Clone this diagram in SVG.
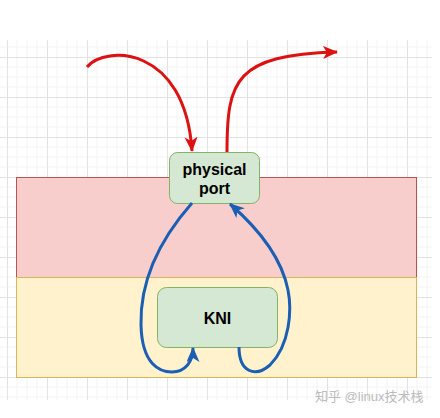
<svg xmlns="http://www.w3.org/2000/svg" width="440" height="418" viewBox="0 0 440 418">
  <defs>
    <pattern id="grid" patternUnits="userSpaceOnUse" x="7" y="17" width="40" height="40">
      <path d="M10,0 V40 M20,0 V40 M30,0 V40 M0,10 H40 M0,20 H40 M0,30 H40" stroke="#f3f3f3" stroke-width="1" fill="none"/>
      <path d="M0.5,0 V40 M0,0.5 H40" stroke="#e2e2e2" stroke-width="1" fill="none"/>
    </pattern>
    <marker id="arrRed" markerUnits="userSpaceOnUse" markerWidth="16" markerHeight="14" refX="14" refY="6.5" orient="auto">
      <path d="M0,0 L15,6.5 L0,13 L4,6.5 z" fill="#dd1111"/>
    </marker>
    <marker id="arrBlue" markerUnits="userSpaceOnUse" markerWidth="16" markerHeight="14" refX="14" refY="6.5" orient="auto">
      <path d="M0,0 L15,6.5 L0,13 L4,6.5 z" fill="#1a5fb4"/>
    </marker>
  </defs>
  <style>
    .layer { stroke-width: 1; }
    .node rect { fill: #d5e8d4; stroke: #82b366; stroke-width: 1; }
    .label { font-family: "Liberation Sans", Arial, sans-serif; font-weight: bold; font-size: 16px; fill: #000; text-anchor: middle; }
    .red { fill: none; stroke: #dd1111; stroke-width: 3; marker-end: url(#arrRed); }
    .blue { fill: none; stroke: #1a5fb4; stroke-width: 3; marker-end: url(#arrBlue); }
    .wm { font-family: "Liberation Sans", "Noto Sans CJK SC", sans-serif; font-size: 13px; fill: #bbbbbb; }
  </style>
  <rect x="0" y="0" width="440" height="418" fill="#ffffff"/>
  <rect x="0" y="40" width="432" height="360" fill="url(#grid)"/>

  <g id="layer-top">
    <rect class="layer" x="16.5" y="177.5" width="400" height="100" fill="#f8cecc" stroke="#b85450"/>
  </g>
  <g id="layer-bottom">
    <rect class="layer" x="16.5" y="277.5" width="400" height="100" fill="#fff2cc" stroke="#d6b656"/>
  </g>

  <g id="physical-port" class="node">
    <rect x="169.5" y="152.5" width="90" height="51" rx="8" ry="8"/>
    <text class="label" x="214.5" y="175">physical</text>
    <text class="label" x="214.5" y="194">port</text>
  </g>

  <g id="kni" class="node">
    <rect x="157.5" y="287.5" width="120" height="60" rx="9" ry="9"/>
    <text class="label" x="217.5" y="324">KNI</text>
  </g>

  <g id="connectors">
    <path class="red" d="M87,67 C105,45 185,45 192,151"/>
    <path class="red" d="M227,152 C227,80 235,55 337,52"/>
    <path class="blue" d="M192,203 C155,245 140,285 141,325 C142,365 160,372 172,372 C185,372 193,362 193,348"/>
    <path class="blue" d="M239,347 C239,372 255,378 270,365 C290,345 292,310 288,290 C282,260 260,230 230,204"/>
  </g>

  <text class="wm" x="315" y="401">知乎 @linux技术栈</text>
</svg>
